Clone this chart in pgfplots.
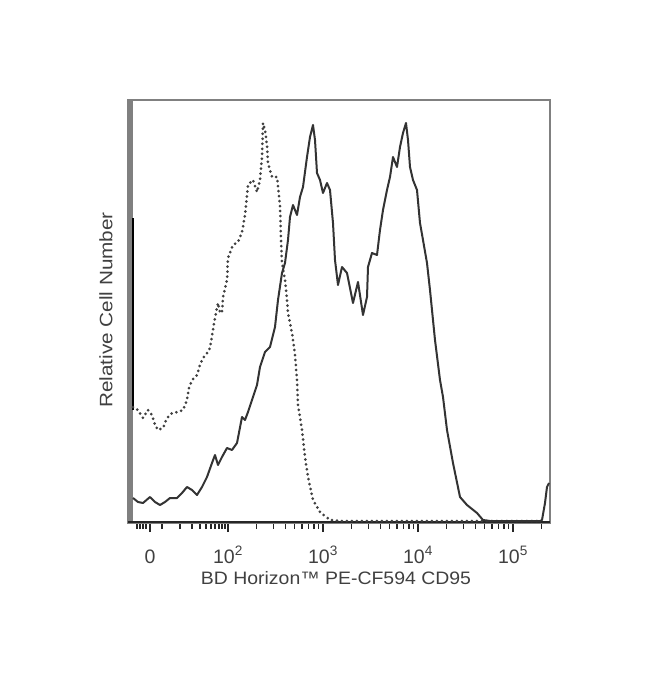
\documentclass[border=0pt]{standalone}
\usepackage{pgfplots}
\pgfplotsset{compat=1.18}
\usepackage{fontspec}
\setmainfont{Liberation Sans}
\usepackage{graphicx}
\begin{document}
\begin{tikzpicture}[x=1pt,y=1pt]
\begin{axis}[
  at={(0pt,0pt)}, anchor=south west,
  scale only axis, width=422pt, height=423pt,
  xmin=128, xmax=550, ymin=0, ymax=423,
  clip=false,
  axis line style={draw=black!50, line width=2.6pt},
  xtick={150,228,323,418,513},
  xticklabels={0,10\textsuperscript{2},10\textsuperscript{3},10\textsuperscript{4},10\textsuperscript{5}},
  minor xtick={137,140,143,146,162,180,192,200,206,211,215,219,222,225,
    256.6,273.3,285.2,294.4,301.9,308.3,313.8,318.7,
    351.6,368.3,380.2,389.4,396.9,403.3,408.8,413.7,
    446.6,463.3,475.2,484.4,491.9,498.3,503.8,508.7,541.6},
  ytick=\empty,
  xtick pos=lower,
  tick align=outside,
  major tick length=9pt, minor tick length=6pt,
  every tick/.style={black!85, line width=1.4pt},
  xticklabel style={font=\fontsize{19.5}{19.5}\selectfont, anchor=base, yshift=-31pt, text=black!75},
  xlabel={\scalebox{1.08}[1]{BD Horizon™ PE-CF594 CD95}},
  xlabel style={at={(axis cs:336,-55)}, anchor=center, font=\fontsize{18}{18}\selectfont, text=black!75},
  ylabel={\scalebox{1.15}[1]{Relative Cell Number}},
  ylabel style={at={(axis cs:106,213)}, anchor=center, rotate=0, font=\fontsize{18}{18}\selectfont, text=black!75},
]
% left edge pile-up
\addplot[black!50, line width=4.5pt] coordinates {(131,0) (131,423)};
\addplot[black, line width=2pt] coordinates {(133,113) (133,305)};
% baseline
\addplot[black!85, line width=2pt] coordinates {(128,1.5) (550,1.5)};
% dotted histogram
\addplot[black!75, line width=3pt, line cap=round, dash pattern=on 0pt off 5pt] coordinates {
(133,116)(138,113)(143,105)(148,113)(152,108)(155,98)(158,93)(163,95)(167,105)(172,110)(178,111)(183,113)(187,123)(189,135)(192,143)(197,148)(200,158)(203,165)(208,171)(210,175)(212,187)(215,205)(218,220)(220,211)(222,210)(223,226)(227,243)(228,265)(233,278)(238,281)(242,291)(245,308)(248,338)(253,343)(257,331)(260,343)(262,366)(263,400)(265,393)(267,378)(268,360)(272,346)(277,346)(280,318)(281,283)(282,260)(285,243)(287,223)(288,210)(292,190)(295,168)(297,143)(298,118)(302,93)(305,66)(308,46)(313,23)(320,11)(330,3)(340,2)(540,2)};
% solid histogram
\addplot[black!80, line width=2pt, line join=round] coordinates {
(133,25)(138,21)(143,20)(150,26)(155,21)(160,18)(165,21)(170,25)(177,25)(182,30)(187,36)(192,33)(197,28)(202,36)(207,46)(212,60)(215,68)(218,58)(222,66)(227,75)(232,73)(237,80)(242,106)(245,103)(248,111)(253,126)(257,138)(260,156)(265,171)(270,176)(275,196)(278,223)(282,250)(285,260)(288,283)(290,306)(293,318)(297,308)(300,326)(303,336)(307,366)(310,386)(313,398)(315,383)(317,350)(320,343)(323,330)(327,340)(330,333)(333,300)(335,263)(338,238)(342,256)(347,250)(353,220)(358,241)(363,208)(367,226)(368,256)(372,270)(377,268)(380,293)(383,313)(387,333)(390,346)(393,366)(397,356)(400,376)(403,390)(406,400)(408,383)(410,356)(413,343)(417,333)(420,300)(423,283)(427,260)(430,233)(435,183)(440,143)(443,126)(447,93)(453,60)(460,26)(467,18)(477,10)(483,3)(490,2)(540,2)(542,3)(545,20)(547,36)(549,40)};
\end{axis}
\path (-128,-160) rectangle (522,523);
\end{tikzpicture}
\end{document}
